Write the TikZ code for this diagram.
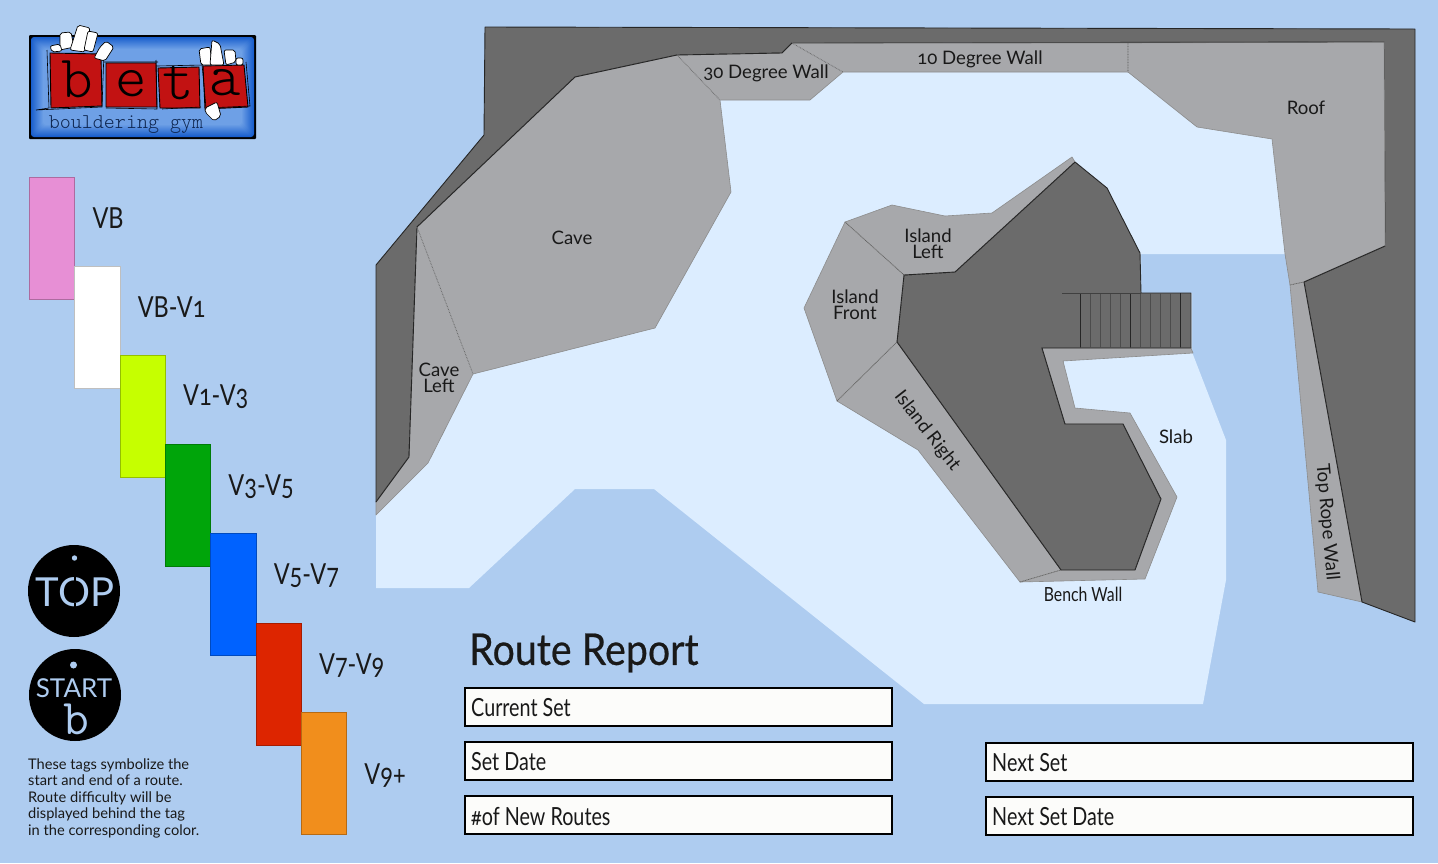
\documentclass[tikz,border=0pt]{standalone}
\usepackage{fontspec}
\setmainfont[Numbers=OldStyle]{Lato}
\newfontfamily\narrowfont[FakeStretch=0.81,Numbers=OldStyle]{Lato}
\newfontfamily\boxfont[FakeStretch=0.79,Numbers=OldStyle]{Lato}
\newfontfamily\titlefont[FakeStretch=0.9,FakeBold=0.5]{Lato}
\newfontfamily\logofont{Latin Modern Mono Light}
\usetikzlibrary{arrows}
\definecolor{pagecol}{RGB}{174,204,240}
\definecolor{floorcol}{RGB}{220,237,255}
\definecolor{wallcol}{RGB}{167,168,171}
\definecolor{rockcol}{RGB}{107,107,107}
\definecolor{logored}{RGB}{194,18,18}
\definecolor{logoedge}{RGB}{26,95,205}
\definecolor{logomid}{RGB}{110,160,230}
\definecolor{logoink}{RGB}{14,38,80}
\definecolor{boxcol}{RGB}{252,252,250}
\definecolor{barpink}{RGB}{231,143,213}
\definecolor{barlime}{RGB}{198,255,0}
\definecolor{bargreen}{RGB}{0,165,10}
\definecolor{barblue}{RGB}{0,98,255}
\definecolor{barred}{RGB}{221,37,0}
\definecolor{barorange}{RGB}{241,142,28}
\tikzset{
  rock/.style={fill=rockcol,draw=black!85,line width=.9pt,line join=round},
  wall/.style={fill=wallcol,draw=black!45,line width=.6pt,line join=round},
  seam/.style={draw=black!65,line width=.6pt,densely dotted},
  walltext/.style={font=\fontsize{18.6}{15.8}\selectfont,align=center,inner sep=0pt,text=black!90},
  bartext/.style={font=\narrowfont\fontsize{29}{29}\selectfont,anchor=west,inner sep=0pt,text=black!90},
  routebox/.style={draw=black,line width=2pt,fill=boxcol,minimum width=427pt,minimum height=38pt,inner sep=0pt},
  boxtext/.style={font=\boxfont\fontsize{25}{25}\selectfont,anchor=west,inner sep=0pt,text=black!90},
  hold/.style={fill=white,draw=black,line width=.7pt,rounded corners=2pt},
  redblock/.style={fill=logored,draw=black,line width=.9pt},
  sketch/.style={draw=black,line width=.6pt},
  logotype/.style={font=\logofont\fontsize{#1}{#1}\selectfont,inner sep=0pt,text=black},
  tagdisc/.style={circle,fill=black,minimum size=92pt,inner sep=0pt}
}
\begin{document}
\begin{tikzpicture}[x=1pt,y=-1pt]
\useasboundingbox (0,0) rectangle (1438,863);
\fill[pagecol] (0,0) rectangle (1438,863);

% logo
\fill[black,rounded corners=1pt] (29,35) rectangle (256,139);
\foreach \i in {0,...,12}
  \fill[logomid!\the\numexpr\i*100/12\relax!logoedge,rounded corners=3pt]
    (31+\i,37+\i) rectangle (254-\i,137-\i);
\draw[redblock] (50,53) -- (101,54) -- (102,106) -- (51,108) -- cycle;
\draw[redblock] (106,63) -- (156,63) -- (157,107) -- (106,107) -- cycle;
\draw[redblock] (158,68) -- (199,67) -- (200,108) -- (160,108) -- cycle;
\draw[redblock] (203,66) -- (244,65) -- (248,107) -- (205,109) -- cycle;
\draw[sketch] (47,50) -- (49,108) -- (36,110) -- (102,107) -- (104,52);
\draw[sketch] (104,62) -- (158,62) (106,108) -- (157,109) -- (156,60);
\draw[sketch] (157,66) -- (203,65) (162,109) -- (201,107);
\draw[sketch] (202,64) -- (206,108) (207,108) -- (250,106) -- (246,62);
\node[logotype=60] (logob) at (77,79) {b};
\node[logotype=60] (logoe) at (131,84) {e};
\node[logotype=60] (logot) at (178,83) {t};
\node[logotype=60] (logoa) at (225,83) {a};
\node[logotype=21,text=logoink] (logogym) at (126,125) {bouldering gym};
\draw[hold] (60,33) -- (71,32) -- (74,47) -- (60,50) -- cycle;
\draw[hold] (78,25) -- (90,28) -- (85,52) -- (70,50) -- cycle;
\draw[hold] (88,31) -- (98,33) -- (93,52) -- (84,50) -- cycle;
\draw[hold] (100,47) -- (106,41) -- (114,47) -- (105,61) -- (94,58) -- cycle;
\draw[hold] (50,46) -- (60,44) -- (62,51) -- (52,52) -- cycle;
\draw[hold] (199,49) -- (210,47) -- (212,65) -- (201,65) -- cycle;
\draw[hold] (212,40) -- (220,44) -- (224,65) -- (210,65) -- cycle;
\draw[hold] (224,50) -- (235,50) -- (236,62) -- (226,65) -- cycle;
\draw[hold] (236,58) -- (243,58) -- (243,65) -- (236,65) -- cycle;
\draw[hold] (205,108) -- (217,102) -- (221,116) -- (214,121) -- (205,112) -- cycle;

% grades
\foreach \i/\col/\lab/\ly in {0/barpink/VB/218,1/white/VB-V1/307,2/barlime/V1-V3/396.5,3/bargreen/V3-V5/486.5,4/barblue/V5-V7/575.5,5/barred/V7-V9/665.5,6/barorange/V9+/775.5}{
  \pgfmathsetmacro\bx{29.3+45.33*\i}
  \pgfmathsetmacro\by{177+89.17*\i}
  \filldraw[fill=\col,draw=\col!75!black,line width=.7pt] (\bx,\by) rectangle ++(45.5,122);
  \node[bartext] (grade\i) at (\bx+63,\ly) {\lab};
}

% tags
\node[tagdisc] (tagtop) at (74,591) {};
\node[font=\fontsize{40}{40}\selectfont,text=pagecol,inner sep=0pt] (toptext) at (75,592.5) {TOP};
\fill[pagecol] (74.5,558) circle (2.7);
\draw[black,line width=2pt] (74.5,574) -- (74.5,581) (74.5,603) -- (74.5,610);
\node[tagdisc] (tagstart) at (75,695) {};
\fill[pagecol] (73.5,665) circle (3.5);
\node[font=\fontsize{26}{26}\selectfont,text=pagecol,inner sep=0pt] (starttext) at (74,688) {START};
\node[font=\ttfamily\fontsize{50}{50}\selectfont,text=pagecol,inner sep=0pt] (startb) at (76,719) {b};
\node[font=\fontsize{14.65}{16.5}\selectfont,align=left,anchor=north west,inner sep=0pt,text=black!90] (tagnote) at (28,758)
  {These tags symbolize the\\start and end of a route.\\Route difficulty will be\\displayed behind the tag\\in the corresponding color.};

% floor
\fill[floorcol] (376,515) -- (450,300) -- (600,150) -- (720,60) -- (1128,60) -- (1280,100) -- (1285,254) -- (1141,254) -- (1141,293) -- (1192,293) -- (1192,352) -- (1226,440) -- (1226,580) -- (1203,704) -- (924,704) -- (654,489) -- (575,489) -- (469,588) -- (376,588) -- cycle;

% outer walls
\draw[rock] (376,265) -- (484,135) -- (485,27) -- (1415,29) -- (1415,622) -- (1362,602) -- (1304,282) -- (1385,246) -- (1384,42) -- (792,43) -- (782,53) -- (677,55) -- (575,77) -- (417,227) -- (409,457) -- (376,502) -- cycle;
\draw[wall] (417,227) -- (575,77) -- (677,55) -- (720,100) -- (731,192) -- (655,328) -- (473,374) -- cycle;
\draw[wall] (417,227) -- (473,374) -- (428,463) -- (376,515) -- (376,502) -- (409,457) -- cycle;
\draw[wall] (677,55) -- (782,53) -- (792,43) -- (843,72) -- (810,100) -- (720,100) -- cycle;
\draw[wall] (792,43) -- (1128,43) -- (1128,72) -- (843,72) -- cycle;
\draw[wall] (1128,43) -- (1384,42) -- (1385,246) -- (1304,282) -- (1290,285) -- (1285,254) -- (1272,139) -- (1197,127) -- (1128,72) -- cycle;
\draw[wall] (1290,285) -- (1304,282) -- (1362,602) -- (1318,592) -- cycle;
\draw[wallcol,line width=1.1pt] (417,227) -- (473,374) (677,55) -- (720,100) (792,43) -- (843,72) (1128,43) -- (1128,72);
\draw[seam] (417,227) -- (473,374) (677,55) -- (720,100) (792,43) -- (843,72) (1128,43) -- (1128,72) (1290,285) -- (1304,282);
\draw[black!70,line width=.8pt] (792,43) -- (1384,42);
\draw[black!85,line width=.9pt] (792,43) -- (782,53) -- (677,55) -- (575,77) -- (417,227) -- (409,457) -- (376,502);
\draw[black!85,line width=.9pt] (1385,246) -- (1304,282) -- (1362,602);

% island
\draw[rock] (1075,162) -- (1107,188) -- (1140,253) -- (1141,293) -- (1191,293) -- (1191,348) -- (1042,348) -- (1065,424) -- (1123,424) -- (1161,499) -- (1135,570) -- (1061,570) -- (897,342) -- (904,275) -- (955,272) -- cycle;
\foreach \x in {1080,1090,...,1180}
  \draw[black!70,line width=.8pt] (\x,293) -- (\x,348);
\foreach \x in {1080,1130,1180}
  \draw[black!85,line width=1pt] (\x,293) -- (\x,348);
\draw[black!75,line width=.8pt] (1062,293) -- (1141,293);
\draw[wall] (845,222) -- (892,205) -- (945,216) -- (992,213) -- (1072,157) -- (1075,162) -- (955,272) -- (904,275) -- cycle;
\draw[wall] (845,222) -- (904,275) -- (897,342) -- (837,401) -- (804,308) -- cycle;
\draw[wall] (897,342) -- (1061,570) -- (1020,582) -- (918,450) -- (837,401) -- cycle;
\draw[wall] (1061,570) -- (1135,570) -- (1161,499) -- (1123,424) -- (1065,424) -- (1042,348) -- (1191,348) -- (1193,353) -- (1063,361) -- (1075,408) -- (1130,413) -- (1177,497) -- (1145,579) -- (1020,582) -- cycle;
\draw[seam] (845,222) -- (904,275) (897,342) -- (837,401) (1061,570) -- (1020,582);
\draw[black!85,line width=.9pt] (1061,570) -- (1135,570) -- (1161,499) -- (1123,424) -- (1065,424) -- (1042,348) -- (1191,348);
\draw[black!85,line width=.9pt] (1075,162) -- (955,272) -- (904,275) -- (897,342) -- (1061,570);

% wall names
\node[walltext] (cave) at (572,237.5) {Cave};
\node[walltext] (caveleft) at (439,378) {Cave\\Left};
\node[walltext] (thirty) at (766,73) {30 Degree Wall};
\node[walltext] (ten) at (980,59.5) {10 Degree Wall};
\node[walltext] (roof) at (1306,107.5) {Roof};
\node[walltext] (islandleft) at (928,244) {Island\\Left};
\node[walltext] (islandfront) at (855,305) {Island\\Front};
\node[walltext,rotate=-52] (islandright) at (927,431) {Island Right};
\node[walltext] (slab) at (1176,436.5) {Slab};
\node[walltext,font=\narrowfont\fontsize{19.5}{18}\selectfont] (bench) at (1083,594) {Bench Wall};
\node[walltext,rotate=-85] (toprope) at (1327,522) {Top Rope Wall};

% report
\node[font=\titlefont\fontsize{43.7}{44}\selectfont,anchor=west,inner sep=0pt,text=black!90] (report) at (469,653) {Route Report};
\foreach \nm/\x/\y/\lab in {current/465/688/Current Set,setdate/465/742/Set Date,newroutes/465/796/\#of New Routes,nextset/986/743/Next Set,nextdate/986/797/Next Set Date}{
  \node[routebox,anchor=north west] (\nm) at (\x-1,\y-1) {};
  \node[boxtext] (\nm text) at (\x+6,\y+20) {\lab};
}
\end{tikzpicture}
\end{document}
